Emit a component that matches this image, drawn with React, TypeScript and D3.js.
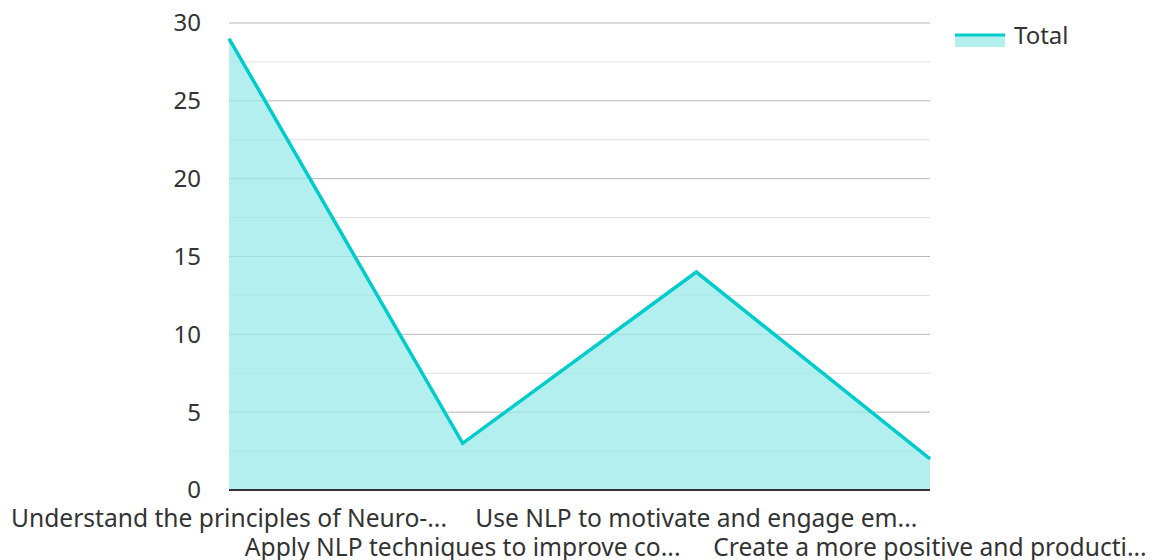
import * as d3 from "d3";

const categories = [
  "Understand the principles of Neuro-...",
  "Apply NLP techniques to improve co...",
  "Use NLP to motivate and engage em...",
  "Create a more positive and producti...",
];
const totals = [29, 3, 14, 2];
const majorTicks = [0, 5, 10, 15, 20, 25, 30];
const minorTicks = [2.5, 7.5, 12.5, 17.5, 22.5, 27.5];
const seriesName = "Total";

const lineColor = "#00cccc";
const fillColor = "#b2efee";
const font = "'Noto Sans', 'Open Sans', sans-serif";

export default function App() {
  const width = 1152;
  const height = 560;
  const left = 229;
  const right = 930;
  const top = 23;
  const bottom = 490;

  const x = d3.scalePoint<number>().domain(d3.range(categories.length)).range([left, right]);
  const y = d3.scaleLinear().domain([0, 30]).range([bottom, top]);

  const line = d3.line<number>().x((d, i) => x(i)!).y((d) => y(d));
  const area = d3.area<number>().x((d, i) => x(i)!).y0(y(0)).y1((d) => y(d));

  return (
    <svg width={width} height={height} style={{ position: "absolute", left: 0, top: 0, fontFamily: font }}>
      {minorTicks.map((t) => (
        <line key={"m" + t} x1={left} x2={right} y1={y(t)} y2={y(t)} stroke="#e6e6e6" strokeWidth={1} />
      ))}
      {majorTicks.map((t) => (
        <line key={"g" + t} x1={left} x2={right} y1={y(t)} y2={y(t)} stroke="#c8c8c8" strokeWidth={1} />
      ))}
      <path d={area(totals)!} fill={fillColor} />
      {majorTicks.map((t) => (
        <line key={"o" + t} x1={left} x2={right} y1={y(t)} y2={y(t)} stroke="#000" strokeOpacity={0.08} strokeWidth={1} />
      ))}
      {minorTicks.map((t) => (
        <line key={"p" + t} x1={left} x2={right} y1={y(t)} y2={y(t)} stroke="#000" strokeOpacity={0.03} strokeWidth={1} />
      ))}
      <path d={line(totals)!} fill="none" stroke={lineColor} strokeWidth={3.5} strokeLinejoin="miter" />
      <line x1={left} x2={right} y1={bottom} y2={bottom} stroke="#333" strokeWidth={2} />
      {majorTicks.map((t) => (
        <text key={"t" + t} x={201} y={y(t)} dy="0.35em" textAnchor="end" fontSize={24} fill="#333">
          {t}
        </text>
      ))}
      {categories.map((c, i) => (
        <text key={c} x={x(i)!} y={i % 2 === 0 ? 518 : 547} dy="0.35em" textAnchor="middle" fontSize={24.6} fill="#333">
          {c}
        </text>
      ))}
      <rect x={955} y={35} width={50} height={12} fill={fillColor} />
      <line x1={955} x2={1005} y1={35} y2={35} stroke={lineColor} strokeWidth={3} />
      <text x={1014} y={36} dy="0.35em" fontSize={24} fill="#333">
        {seriesName}
      </text>
    </svg>
  );
}
